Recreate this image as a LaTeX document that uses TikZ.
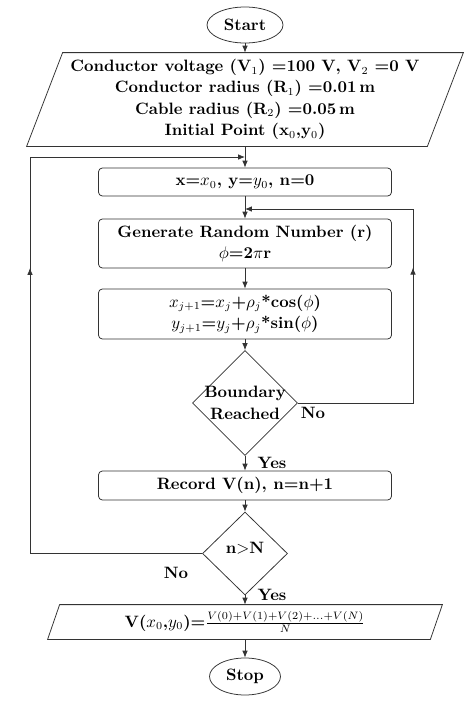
\documentclass[tikz,border=0pt]{standalone}
\usetikzlibrary{shapes.geometric,arrows.meta,decorations.markings,calc}
\newlength\upx
\setlength\upx{0.65pt}
\begin{document}
\begin{tikzpicture}[x=0.65pt,y=-0.65pt,
  font=\fontsize{10.7}{13.9}\selectfont\bfseries,
  line width=0.5pt,
  every node/.style={text=black},
  tip/.style={-{Latex[length=4.5pt,width=3.6pt]}},
  arr/.style={draw=black!80,tip},
  midarrow/.style={postaction={decorate,decoration={markings,
      mark=at position #1 with {\arrow{Latex[length=4.5pt,width=3.6pt]}}}}},
  term/.style={draw=black!80,ellipse,inner sep=0pt},
  box/.style={draw=black!80,rounded corners=2.5pt,minimum width=293\upx,align=center,inner sep=0pt},
  plainbox/.style={inner sep=0pt,align=center},
  dia/.style={draw=black!80,diamond,inner sep=0pt,aspect=1},
  lbl/.style={inner sep=0pt}]
\useasboundingbox (0,0) rectangle (474,707);

\node[term,minimum width=76\upx,minimum height=36\upx] (start) at (245,25) {Start};

\node[plainbox,minimum width=400\upx,minimum height=93\upx] (in1) at (245,99.5)
  {Conductor voltage (V$_1$) =100 V, V$_2$ =0 V\\
   Conductor radius (R$_1$) =0.01\,m\\
   Cable radius (R$_2$) =0.05\,m\\
   Initial Point (x$_0$,y$_0$)};
\draw[black!80] ([xshift=18\upx]in1.north west) -- ([xshift=18\upx]in1.north east)
  -- ([xshift=-18\upx]in1.south east) -- ([xshift=-18\upx]in1.south west) -- cycle;

\node[box,minimum height=28\upx] (b1) at (245,182) {x=$x_0$, y=$y_0$, n=0};
\node[box,minimum height=49\upx] (b2) at (245,243.5) {Generate Random Number (r)\\$\phi$=2$\pi$r};
\node[box,minimum height=50\upx] (b3) at (245,314)
  {$x_{j+1}$=$x_j$+$\rho_j$*cos($\phi$)\\$y_{j+1}$=$y_j$+$\rho_j$*sin($\phi$)};
\node[dia,minimum width=105\upx,minimum height=105\upx] (d1) at (245,403)
  {\smash{\makebox[0pt]{\raisebox{-3.5pt}{\begin{tabular}{@{}c@{}}Boundary\\Reached\end{tabular}}}}};
\node[box,minimum height=29\upx] (b4) at (245,485.5) {Record V(n), n=n+1};
\node[dia,minimum width=85\upx,minimum height=83\upx] (d2) at (245,553.5)
  {\smash{\makebox[0pt]{n$>$N}}};

\node[plainbox,minimum width=382\upx,minimum height=34\upx] (in2) at (245,622)
  {V($x_0$,$y_0$)=$\frac{V(0)+V(1)+V(2)+...+V(N)}{N}$};
\draw[black!80] ([xshift=6\upx]in2.north west) -- ([xshift=6\upx]in2.north east)
  -- ([xshift=-6\upx]in2.south east) -- ([xshift=-6\upx]in2.south west) -- cycle;

\node[term,minimum width=71\upx,minimum height=37\upx] (stop) at (245,676.5) {Stop};

\coordinate (j1) at (245,157);
\coordinate (j2) at (245,209);
\coordinate (L1) at (30,553.5);
\coordinate (L2) at (30,157);
\coordinate (R1) at (413,403);
\coordinate (R2) at (413,209);

\draw[arr] (start) -- (in1.north);
\draw[arr] (in1.south) -- (b1.north);
\draw[arr] (b1.south) -- (b2.north);
\draw[arr] (b2.south) -- (b3.north);
\draw[arr] (b3.south) -- (d1.north);
\draw[arr] (d1.south) -- (b4.north);
\draw[arr] (b4.south) -- (d2.north);
\draw[arr] (d2.south) -- (in2.north);
\draw[arr] (in2.south) -- (stop.north);

\draw[arr,midarrow=0.584] (d2.west) -- (L1) -- (L2) -- (j1);
\draw[arr,midarrow=0.525] (d1.east) -- (R1) -- (R2) -- (j2);

\node[lbl] (no1) at (313,413) {No};
\node[lbl] (yes1) at (272,463) {Yes};
\node[lbl] (no2) at (176,573) {No};
\node[lbl] (yes2) at (272,595) {Yes};
\end{tikzpicture}
\end{document}
